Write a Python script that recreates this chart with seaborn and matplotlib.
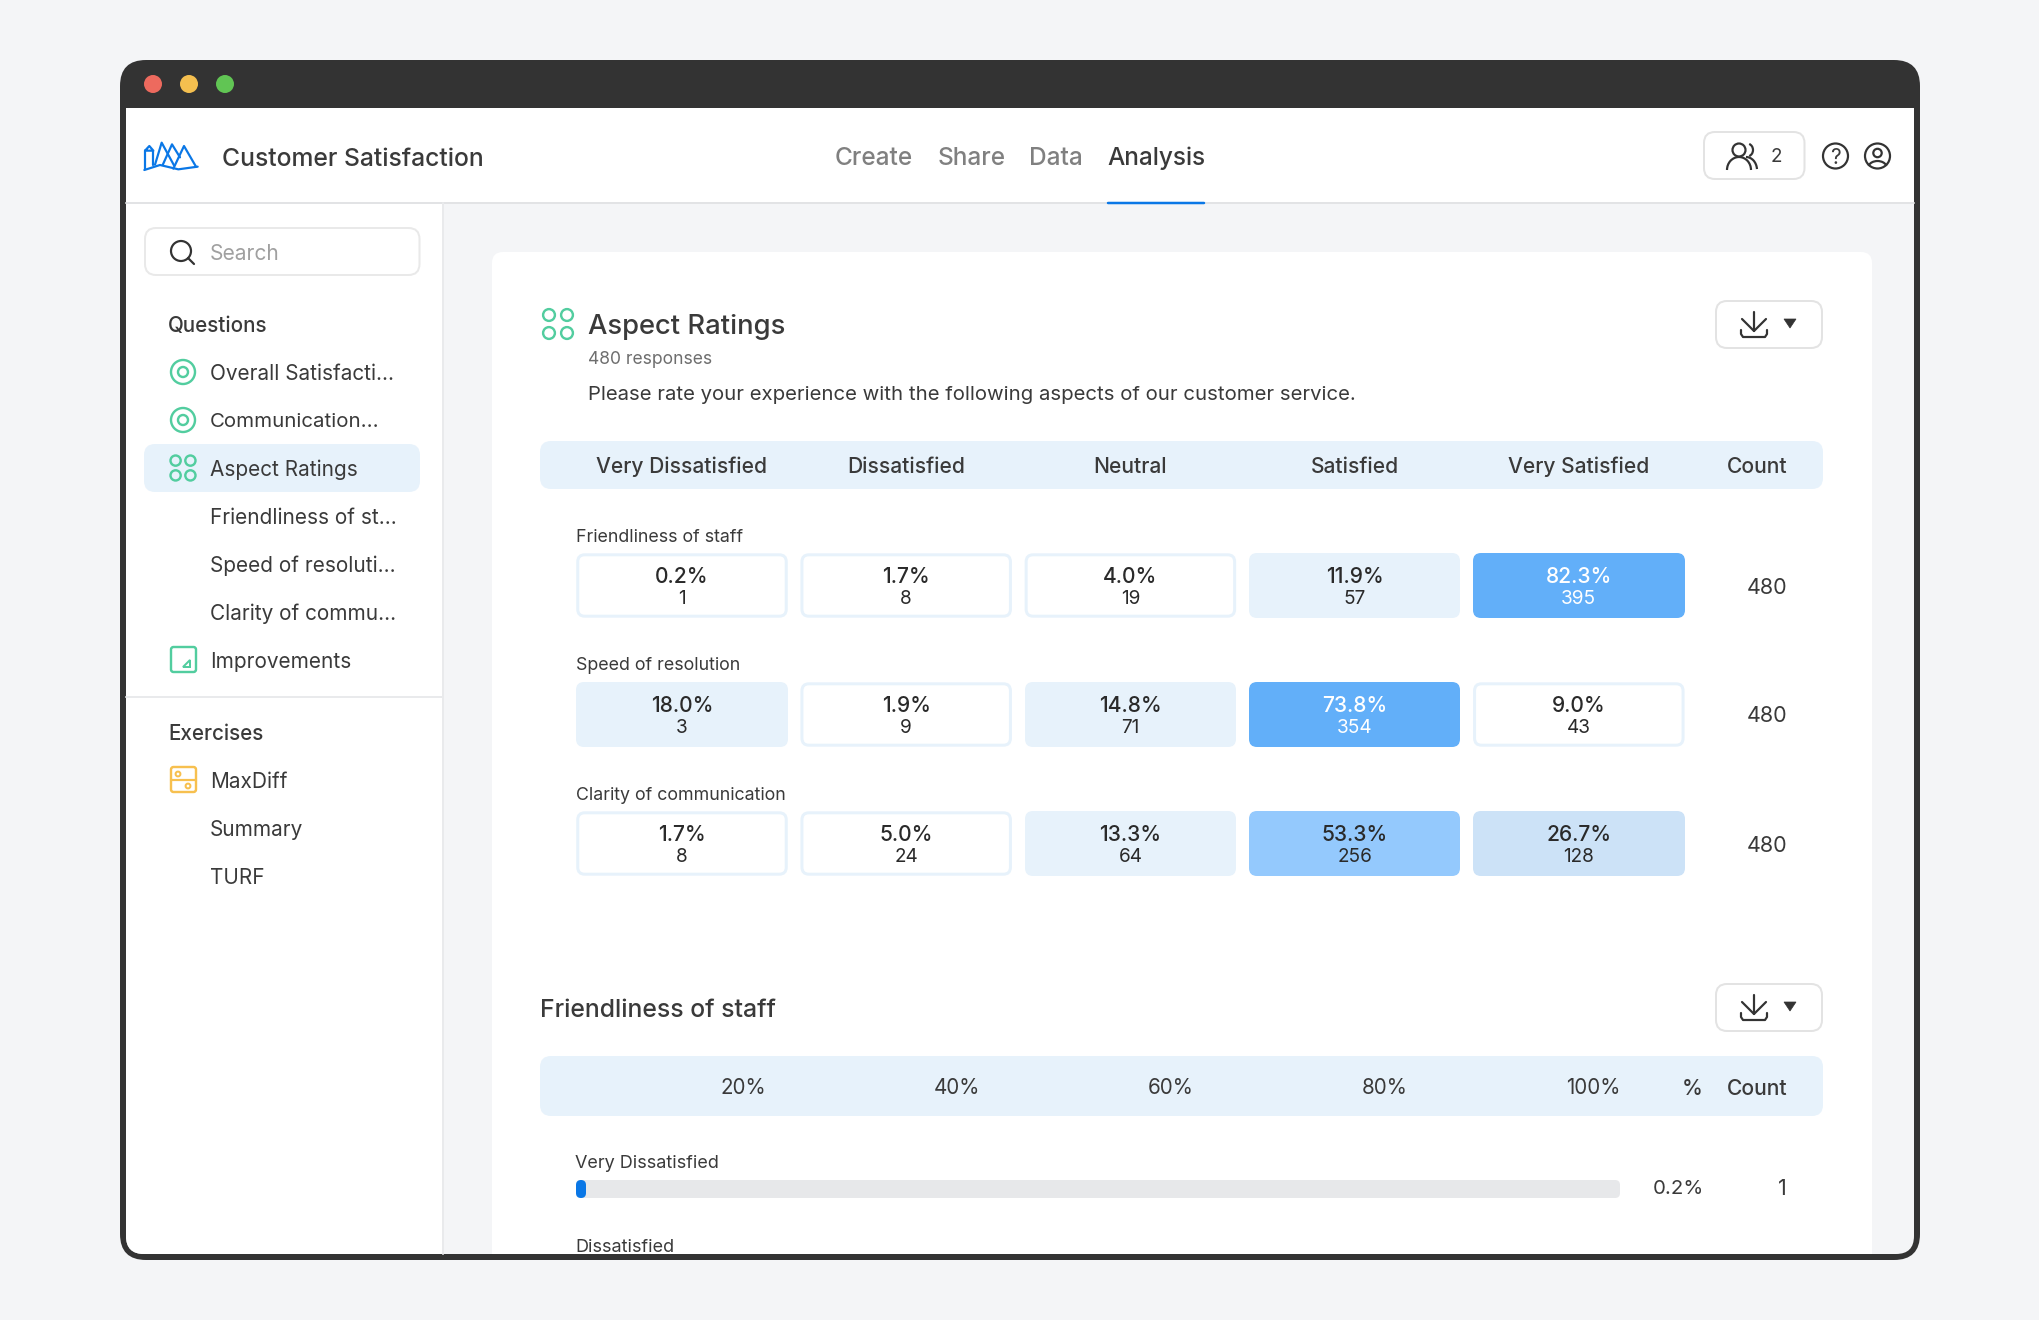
import numpy as np
import pandas as pd
import matplotlib
matplotlib.use("Agg")
import matplotlib.pyplot as plt
import seaborn as sns
from matplotlib.colors import BoundaryNorm, ListedColormap
from matplotlib.patches import Arc, Circle, FancyBboxPatch, Polygon, Rectangle
from matplotlib.path import Path

# Chart data
RATINGS = ["Very Dissatisfied", "Dissatisfied", "Neutral", "Satisfied", "Very Satisfied"]
ASPECTS = ["Friendliness of staff", "Speed of resolution", "Clarity of communication"]
PCT_FRIENDLINESS = [0.2, 1.7, 4.0, 11.9, 82.3]
PCT_SPEED = [18.0, 1.9, 14.8, 73.8, 9.0]
PCT_CLARITY = [1.7, 5.0, 13.3, 53.3, 26.7]
COUNT_FRIENDLINESS = [1, 8, 19, 57, 395]
COUNT_SPEED = [3, 9, 71, 354, 43]
COUNT_CLARITY = [8, 24, 64, 256, 128]
ROW_TOTALS = [480, 480, 480]
BAR_TICKS = [20, 40, 60, 80, 100]
BAR_LABEL = "Very Dissatisfied"
BAR_PCT = 0.2
BAR_COUNT = 1

NAV_ITEMS = ["Create", "Share", "Data", "Analysis"]
SIDEBAR_QUESTIONS = ["Overall Satisfacti...", "Communication...", "Aspect Ratings",
                     "Friendliness of st...", "Speed of resoluti...", "Clarity of commu...",
                     "Improvements"]
SIDEBAR_EXERCISES = ["MaxDiff", "Summary", "TURF"]

BG = "#f4f5f7"
DARK = "#333333"
TEXT = "#3a3a3a"
BAND = "#e7f2fb"
GREEN = "#52cd9f"
YELLOW = "#f7c04f"
BLUE = "#0a77e6"
BORDER = "#e3e3e3"
HEAT_BINS = [0, 10, 20, 40, 60, 100]
HEAT_COLORS = ["#ffffff", BAND, "#cce2f7", "#94c9fd", "#62aff9"]

sns.set_theme(style="white")
plt.rcParams["font.family"] = ["Inter", "DejaVu Sans"]
plt.rcParams["patch.force_edgecolor"] = False

fig = plt.figure(figsize=(20.4, 13.2), dpi=100, facecolor=BG)
page = fig.add_axes([0, 0, 1, 1], zorder=0)
page.set_xlim(0, 2040)
page.set_ylim(1320, 0)
page.axis("off")


def px(v):
    return v * 0.72


def rounded(x0, y0, x1, y1, r, **kw):
    return FancyBboxPatch((x0, y0), x1 - x0, y1 - y0,
                          boxstyle=f"round,pad=0,rounding_size={r}", **kw)


def box(x0, y0, x1, y1, r, fc="white", ec="none", lw=0, z=1):
    p = rounded(x0, y0, x1, y1, r, fc=fc, ec=ec, lw=px(lw), zorder=z)
    page.add_patch(p)
    return p


def label(x, y, s, size=20.6, color=TEXT, ha="left", weight="normal", ax=None, **kw):
    return (ax or page).text(x, y, s, fontsize=px(size), color=color, ha=ha,
                             va="center_baseline", fontweight=weight, zorder=6, **kw)


def ring(x, y, r, color=GREEN, lw=2.4, z=5):
    page.add_patch(Circle((x, y), r, fc="none", ec=color, lw=px(lw), zorder=z))


def line(xs, ys, color=DARK, lw=2.2, z=5):
    page.plot(xs, ys, color=color, lw=px(lw), zorder=z, solid_capstyle="round",
              solid_joinstyle="round")


def four_rings(cx, cy, gap, r):
    for dx in (-gap, gap):
        for dy in (-gap, gap):
            ring(cx + dx, cy + dy, r)


def download_button(y0):
    box(1716, y0, 1822, y0 + 47, 11, ec=BORDER, lw=2, z=4)
    line([1754, 1754], [y0 + 11, y0 + 30])
    line([1742, 1754, 1766], [y0 + 18, y0 + 30, y0 + 18])
    line([1741, 1741, 1743, 1765, 1767, 1767],
         [y0 + 29, y0 + 33, y0 + 36, y0 + 36, y0 + 33, y0 + 29])
    page.add_patch(Polygon([[1784, y0 + 18], [1796, y0 + 18], [1790, y0 + 27]],
                           fc=DARK, ec=DARK, lw=0.5, zorder=5))


# Window frame
box(120, 60, 1920, 1260, 26, fc=DARK, z=1)
inner = box(126, 80, 1914, 1254, 18, fc=BG, z=1.1)
page.add_patch(Rectangle((126, 70), 1788, 38, fc=DARK, ec="none", zorder=1.2))
page.add_patch(Rectangle((126, 108), 1788, 95, fc="white", ec="none", zorder=1.3))
sidebar = Rectangle((126, 203), 317, 1051, fc="white", ec="none", zorder=1.3)
page.add_patch(sidebar)
sidebar.set_clip_path(inner)
page.plot([126, 1914], [203, 203], color="#e2e3e5", lw=px(2), zorder=1.4)
page.plot([443, 443], [203, 1254], color="#e9eaec", lw=px(2), zorder=1.4)
page.plot([126, 443], [697, 697], color="#e9eaec", lw=px(2), zorder=1.4)
for cx, col in zip((153, 189, 225), ("#ed6a5e", "#f4bf4f", "#61c554")):
    page.add_patch(Circle((cx, 84), 9, fc=col, ec="none", zorder=2))

# Top bar
logo = lambda xs, ys: line([110 + v / 3 for v in xs], [50 + v / 3 for v in ys], color=BLUE, lw=2.2)
logo([103, 150, 205, 263], [360, 345, 358, 350])
logo([105, 105], [358, 302])
logo([130, 130], [346, 302])
logo([105, 118, 130, 105], [302, 288, 302, 302])
logo([135, 155, 192], [344, 278, 346])
logo([158, 186, 210], [345, 283, 322])
logo([190, 222, 258], [356, 288, 350])
label(222, 156.5, "Customer Satisfaction", size=24.7, weight=500)
for x, s in zip((835, 938, 1029, 1107.5), NAV_ITEMS):
    active = s == "Analysis"
    label(x, 156, s, size=24.4, color=TEXT if active else "#808080", weight=500)
page.plot([1108, 1204], [203, 203], color=BLUE, lw=px(2.5), zorder=3)

box(1704, 132, 1804.5, 179, 11, ec=BORDER, lw=2, z=4)
ring(1739, 150, 6.5, color=DARK, lw=2.2)
page.add_patch(Arc((1739, 170), 24, 26, theta1=180, theta2=360, ec=DARK, lw=px(2.2), zorder=5))
page.add_patch(Arc((1747, 150), 12, 13, theta1=-70, theta2=70, ec=DARK, lw=px(2.2), zorder=5))
page.add_patch(Arc((1746, 170), 22, 26, theta1=270, theta2=355, ec=DARK, lw=px(2.2), zorder=5))
label(1776, 155, "2", size=19, ha="center")
ring(1835.5, 156, 12.5, color=DARK, lw=2.2)
label(1835.5, 156, "?", size=21, ha="center")
ring(1877.5, 156, 12.5, color=DARK, lw=2.2)
ring(1877.5, 153, 4.2, color=DARK, lw=2.2)
page.add_patch(Arc((1877.5, 169), 20, 16, theta1=200, theta2=340, ec=DARK, lw=px(2.2), zorder=5))

# Sidebar
box(145, 228, 419.5, 275, 11, ec="#e9e9e9", lw=2, z=2)
ring(181, 251, 10, color=DARK, lw=2.2)
line([188, 194], [258, 264])
label(210, 252, "Search", color="#a0a0a0", size=21)
label(168, 324, "Questions", weight=500)
box(144, 444, 420, 492, 11, fc=BAND, z=2)
for i, s in enumerate(SIDEBAR_QUESTIONS):
    label(210, 372 + 48 * i, s, size=20.8 if i != 1 else 20.4)
for y in (372, 420):
    ring(183, y, 12)
    ring(183, y, 5)
four_rings(183, 468, 7.4, 5.1)
box(171, 647, 196, 672, 2.5, fc="none", ec=GREEN, lw=2.4, z=5)
page.add_patch(Polygon([[183, 667], [190, 667], [190, 660]], fc="none", ec=GREEN, lw=px(2), zorder=5))
label(168, 732, "Exercises", weight=500)
for i, s in enumerate(SIDEBAR_EXERCISES):
    label(210, 780 + 48 * i, s, size=20.8)
box(171, 767, 196, 792, 2.5, fc="none", ec=YELLOW, lw=2.4, z=5)
line([171, 196], [780, 780], color=YELLOW, lw=2.2)
ring(178, 774, 2.4, color=YELLOW, lw=2)
ring(188, 786, 2.4, color=YELLOW, lw=2)

# Card with the first table
card = box(492, 252, 1872, 1300, 11, z=1.5)
card.set_clip_path(inner)
four_rings(558, 324, 9, 5.9)
label(588, 324, "Aspect Ratings", size=27.4, weight=500)
label(588, 358, "480 responses", size=17.5, color="#6e6e6e")
label(588, 393, "Please rate your experience with the following aspects of our customer service.", size=20.35)
download_button(301)
box(540, 441, 1823, 489, 11, fc=BAND, z=2)

CELL_W, CELL_H = 211.5, 64.4
COL_STEP, ROW_STEP = 224.2, 129
COL0_X, ROW0_Y = 682.0, 585.5
col_x = [COL0_X + COL_STEP * i for i in range(len(RATINGS))]
row_y = [ROW0_Y + ROW_STEP * j for j in range(len(ASPECTS))]
for x, s in zip(col_x, RATINGS):
    label(x, 465, s, size=21, weight=500, ha="center")
label(1788, 465, "Count", size=21, weight=500, ha="right")

pct = pd.DataFrame([PCT_FRIENDLINESS, PCT_SPEED, PCT_CLARITY], index=ASPECTS, columns=RATINGS)
counts = pd.DataFrame([COUNT_FRIENDLINESS, COUNT_SPEED, COUNT_CLARITY], index=ASPECTS, columns=RATINGS)

# heatmap cells take one full step each, then get clipped down to rounded boxes
heat_left, heat_top = col_x[0] - COL_STEP / 2, row_y[0] - ROW_STEP / 2
heat_ax = fig.add_axes([heat_left / 2040, 1 - (heat_top + ROW_STEP * 3) / 1320,
                        COL_STEP * 5 / 2040, ROW_STEP * 3 / 1320], zorder=2)
heat_cmap = ListedColormap(HEAT_COLORS)
sns.heatmap(pct, ax=heat_ax, cmap=heat_cmap, norm=BoundaryNorm(HEAT_BINS, len(HEAT_COLORS)),
            cbar=False, xticklabels=False, yticklabels=False)
heat_ax.axis("off")
heat_ax.patch.set_visible(False)
cell_paths = []
for x in col_x:
    for y in row_y:
        cell = rounded(x - CELL_W / 2, y - CELL_H / 2, x + CELL_W / 2, y + CELL_H / 2, 8)
        cell_paths.append(cell.get_path())
heat_ax.collections[0].set_clip_path(Path.make_compound_path(*cell_paths), page.transData)

for j, aspect in enumerate(ASPECTS):
    label(0.028, j + 0.5 - 50.5 / ROW_STEP, aspect, size=17.8, ax=heat_ax)
    for i, rating in enumerate(RATINGS):
        value = pct.loc[aspect, rating]
        if value < HEAT_BINS[1]:
            heat_ax.add_patch(rounded(col_x[i] - CELL_W / 2 + 1.5, row_y[j] - CELL_H / 2 + 1.5,
                                      col_x[i] + CELL_W / 2 - 1.5, row_y[j] + CELL_H / 2 - 1.5, 7,
                                      fc="none", ec=BAND, lw=px(3), transform=page.transData, zorder=3))
        text_col = "white" if value >= 60 else "#2a2a2a"
        label(i + 0.5, j + 0.5 - 10.5 / ROW_STEP, f"{value:.1f}%", size=21, color=text_col,
              ha="center", weight=500, ax=heat_ax)
        label(i + 0.5, j + 0.5 + 11.5 / ROW_STEP, str(counts.loc[aspect, rating]), size=19,
              color=text_col, ha="center", ax=heat_ax)
    label(1787, row_y[j], str(ROW_TOTALS[j]), ha="right", size=21.5)

# Second table
label(540, 1008, ASPECTS[0], size=24.8, weight=500)
download_button(984)
box(540, 1056, 1823, 1116, 11, fc=BAND, z=2)

# header ticks are right-aligned on their column, so this axis starts left of the track
tick_ax = fig.add_axes([552.5 / 2040, 1 - 1088 / 1320, 1068.5 / 2040, 0.001], zorder=2)
tick_ax.patch.set_visible(False)
sns.despine(ax=tick_ax, left=True, bottom=True)
tick_ax.set_xlim(0, 100)
tick_ax.set_yticks([])
tick_ax.set_xticks(BAR_TICKS)
tick_ax.set_xticklabels([f"{t}%" for t in BAR_TICKS], fontsize=px(20.6), color=TEXT, ha="right", va="center")
tick_ax.tick_params(axis="x", length=0, pad=0)
label(1703, 1087, "%", size=21, weight=500, ha="right")
label(1788, 1087, "Count", size=21, weight=500, ha="right")

label(575.5, 1162, BAR_LABEL, size=18)
bar_ax = fig.add_axes([576 / 2040, 1 - 1198 / 1320, 1044 / 2040, 18 / 1320], zorder=2)
MIN_BAR_PCT = 0.96  # small shares still get a visible pill
sns.barplot(x=[100], y=[BAR_LABEL], color="#e7e8ea", width=1, saturation=1, ax=bar_ax, orient="h")
sns.barplot(x=[max(BAR_PCT, MIN_BAR_PCT)], y=[BAR_LABEL], color=BLUE, width=1, saturation=1, ax=bar_ax, orient="h")
bar_ax.set_xlim(0, 100)
bar_ax.axis("off")
bar_ax.patches[0].set_clip_path(rounded(576, 1180, 1620, 1198, 5, transform=page.transData))
bar_ax.patches[1].set_clip_path(rounded(576, 1180, 586, 1198, 5, transform=page.transData))
label(1704, 1187, f"{BAR_PCT}%", ha="right", size=20.4)
label(1787, 1187, str(BAR_COUNT), ha="right", size=21.5)
label(575.5, 1245, RATINGS[1], size=18)

fig.savefig("out.png", dpi=100, facecolor=BG)
plt.close(fig)
